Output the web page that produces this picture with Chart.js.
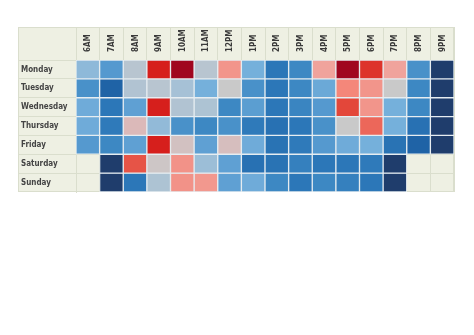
<!DOCTYPE html>
<html>
<head>
<meta charset="utf-8">
<script src="https://cdn.jsdelivr.net/npm/chart.js@4/dist/chart.umd.min.js"></script>
<style>
  body { margin: 0; background: #fff; }
  #heatmap { display: block; }
</style>
</head>
<body>
<canvas id="heatmap" width="474" height="335"></canvas>
<script>
// Rows and columns of the table
const days = ['Monday', 'Tuesday', 'Wednesday', 'Thursday', 'Friday', 'Saturday', 'Sunday'];
const hours = ['6AM', '7AM', '8AM', '9AM', '10AM', '11AM', '12PM', '1PM',
  '2PM', '3PM', '4PM', '5PM', '6PM', '7PM', '8PM', '9PM'];

// Activity level per day (0 = lowest, 13 = highest), null = no data
const monday    = [5.5, 4, 6.5, 12, 13, 6.5, 9.5, 5, 2, 3, 9, 13, 11.5, 9, 3.5, 0];
const tuesday   = [3.5, 1, 6.3, 6.5, 6, 5, 7, 3.5, 2, 3, 4.7, 10, 9.5, 7, 3, 0];
const wednesday = [4.8, 2, 4.3, 12, 6.3, 6.2, 3, 4.2, 2, 2.8, 4, 11, 9.5, 5, 3, 0];
const thursday  = [4.8, 2.2, 8, 5.6, 3.5, 3, 3.5, 2.2, 1.7, 2, 3.5, 7, 10.5, 5, 1.7, 0];
const friday    = [4, 3, 4.3, 12, 7.5, 4.3, 7.7, 4.8, 1.8, 2.2, 4, 4.8, 5, 1.8, 1, 0];
const saturday  = [null, 0, 10.8, 7.2, 9.6, 5.8, 4.3, 1.7, 1.8, 2.5, 2, 2, 2.2, 0, null, null];
const sunday    = [null, 0, 2, 6.2, 9.6, 9.4, 4.3, 4.8, 3, 2, 3, 2.5, 2, 0, null, null];

const rows = [monday, tuesday, wednesday, thursday, friday, saturday, sunday];

// Diverging colour ramp, one stop per level
const colorStops = ['#1f3d6c', '#1f63a6', '#2c77b8', '#3d88c3', '#5599cf', '#75b0db',
  '#a6c1d6', '#c9c9c9', '#dbb9b9', '#f0a39c', '#f4877a', '#e3473a', '#d61f1c', '#a0061f'];

function hexToRgb(h) {
  return [parseInt(h.slice(1, 3), 16), parseInt(h.slice(3, 5), 16), parseInt(h.slice(5, 7), 16)];
}

function colorFor(v) {
  if (v == null) return 'rgba(0,0,0,0)';
  const i = Math.min(Math.floor(v), colorStops.length - 2);
  const t = v - i;
  const a = hexToRgb(colorStops[i]);
  const b = hexToRgb(colorStops[i + 1]);
  const c = a.map((x, k) => Math.round(x + (b[k] - x) * t));
  return `rgb(${c[0]},${c[1]},${c[2]})`;
}

const beige = '#eef0e3';
const lineColor = '#dadecd';
const labelFont = '"DejaVu Sans Condensed", "Liberation Sans", sans-serif';

// Paints the header / label background and outer frame
const tableBackground = {
  id: 'tableBackground',
  beforeDraw(chart) {
    const { ctx, chartArea } = chart;
    const left = chartArea.left - chart.scales.days.options.grid.tickLength;
    const top = chartArea.top - chart.scales.x.options.grid.tickLength;
    ctx.save();
    ctx.fillStyle = beige;
    ctx.fillRect(left, top, chartArea.right - left, chartArea.bottom - top);
    ctx.strokeStyle = lineColor;
    ctx.lineWidth = 1;
    ctx.strokeRect(left + 0.5, top + 0.5, chartArea.right - left - 1, chartArea.bottom - top - 1);
    ctx.beginPath();
    ctx.moveTo(left, chartArea.top + 0.5);
    ctx.lineTo(chartArea.left, chartArea.top + 0.5);
    ctx.stroke();
    ctx.restore();
  }
};

const datasets = rows.map((vals, d) => ({
  label: days[d],
  data: vals.map(v => (v == null ? null : [d, d + 1])),
  backgroundColor: vals.map(colorFor),
  borderColor: '#e6edf1',
  borderWidth: 1,
  borderSkipped: false,
  grouped: false,
  categoryPercentage: 1,
  barPercentage: 1
}));

new Chart(document.getElementById('heatmap'), {
  type: 'bar',
  data: { labels: hours, datasets },
  plugins: [tableBackground],
  options: {
    responsive: false,
    animation: false,
    layout: { padding: { left: 21, top: 27, right: 20, bottom: 143 } },
    plugins: { legend: { display: false }, tooltip: { enabled: false } },
    scales: {
      x: {
        position: 'top',
        offset: true,
        afterFit: axis => { axis.height = 33; },
        grid: { offset: true, color: lineColor, tickLength: 33, tickColor: lineColor },
        border: { color: lineColor },
        ticks: {
          minRotation: 90,
          maxRotation: 90,
          padding: -25,
          labelOffset: 10,
          color: '#3a3a3a',
          font: { family: labelFont, size: 8, weight: 'bold' }
        }
      },
      y: {
        display: false,
        min: 0,
        max: 7,
        reverse: true
      },
      days: {
        type: 'category',
        labels: days,
        position: 'left',
        offset: true,
        afterFit: axis => { axis.width = 55; },
        grid: { offset: true, color: lineColor, tickLength: 58, tickColor: lineColor },
        border: { color: lineColor },
        ticks: {
          crossAlign: 'far',
          color: '#444444',
          font: { family: labelFont, size: 8, weight: 'bold' }
        }
      }
    }
  }
});
</script>
</body>
</html>
